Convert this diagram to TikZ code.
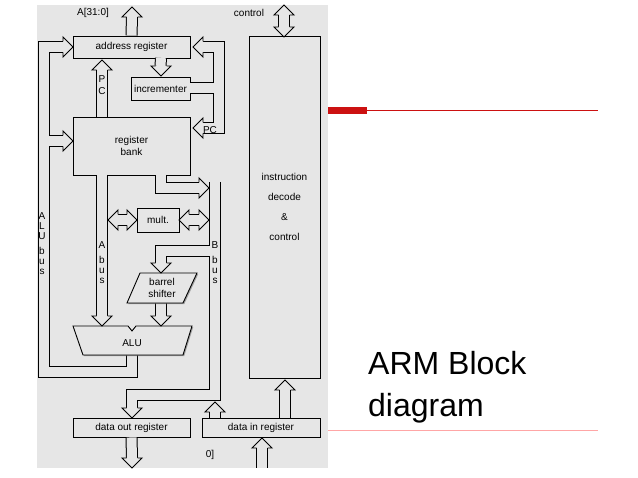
\documentclass[tikz,border=0pt]{standalone}
\usepackage{fontspec}
\setmainfont{Liberation Sans}
\usepackage{tikz}
\usetikzlibrary{shadows}

\definecolor{panel}{HTML}{E6E6E6}
\definecolor{slidered}{HTML}{CC1111}

% bus paths, drawn twice: black border pass, then grey inner pass
\newcommand\buspaths[1]{%
    \draw[#1] (areg.north) -- (132,17);
    \draw[#1] (284,15) -- (284,27);
    \draw[#1] (102,117) -- (102,70);
    \draw[#1] (161,58) -- (inc.north |- 0,66);
    \draw[#1] (203,47) -- (219,47) -- (219,128) -- (203,128);
    \draw[#1] (inc.east) -- (219,88.5);
    \draw[#1] (alu.south) -- (132,372) -- (44,372) -- (44,47) -- (63,47);
    \draw[#1] (44,141) -- (63,141);
    \draw[#1] (102,175) -- (102,316);
    \draw[#1] (161,175) -- (161,188) -- (199,188);
    \draw[#1] (215,182) -- (215,395) -- (132,395) -- (132,408);
    \draw[#1] (215,251) -- (161,251) -- (161,263);
    \draw[#1] (118,220) -- (127,220);
    \draw[#1] (189,220) -- (199,220);
    \draw[#1] (161,302) -- (161,316);
    \draw[#1] (dout.south) -- (132,458);
    \draw[#1] (din.north -| 215,0) -- (215,412);
    \draw[#1] (din.north -| 285,0) -- (285,390);
    \draw[#1] (262,468) -- (262,448);
}

\tikzset{
    blk/.style={draw, line width=.9pt, fill=panel, inner sep=0pt,
        font=\fontsize{10}{12}\selectfont,
        drop shadow={shadow xshift=1.2pt, shadow yshift=-1.2pt, opacity=.7}},
    busout/.style={line width=12pt, draw=black, line join=miter, line cap=butt},
    busin/.style={line width=10pt, draw=panel, line join=miter, line cap=butt},
    lbl/.style={font=\fontsize{10}{12}\selectfont, inner sep=0pt},
    hd/.pic={\filldraw[fill=panel, line width=.9pt, line join=miter]
        (0,5.5) -- (0,10) -- (10,0) -- (0,-10) -- (0,-5.5);},
}

\begin{document}
\begin{tikzpicture}[x=1pt, y=-1pt]
    \useasboundingbox (0,0) rectangle (638,478);
    \fill[panel] (37,5) rectangle (328,468);

    % units
    \node[blk, minimum width=117pt, minimum height=22pt] (areg) at (131.5,47) {};
    \node[blk, minimum width=59pt, minimum height=23pt] (inc) at (160.5,88.5) {};
    \node[blk, minimum width=117pt, minimum height=58pt, align=center] (bank) at (131.5,146) {register\\bank};
    \node[blk, minimum width=71pt, minimum height=342pt] (idec) at (284.5,207) {};
    \node[blk, minimum width=42pt, minimum height=24pt] (mult) at (158,220) {mult.};
    \node[blk, minimum width=117pt, minimum height=19pt] (dout) at (131.5,427.5) {};
    \node[blk, minimum width=118pt, minimum height=19pt] (din) at (261,427.5) {};
    \coordinate (alu) at (132,355);

    \buspaths{busout}
    \buspaths{busin}

    % shapes over the buses
    \filldraw[fill=panel, line width=.9pt, drop shadow={shadow xshift=1.2pt, shadow yshift=-1.2pt, opacity=.7}]
        (73,326) -- (128,326) -- (132,331) -- (136,326) -- (192,326) -- (183,355) -- (83,355) -- cycle;
    \filldraw[fill=panel, line width=.9pt, drop shadow={shadow xshift=1.2pt, shadow yshift=-1.2pt, opacity=.7}]
        (140,273) -- (197,273) -- (183,303) -- (127,303) -- cycle;
    \node[lbl] at (132,343) {ALU};
    \node[lbl, align=center] (bsh) at (162,288) {barrel\\shifter};
    \node[lbl] at (areg) {address register};
    \node[lbl] at (inc) {incrementer};
    \node[lbl] at (dout) {data out register};
    \node[lbl] at (din) {data in register};

    % arrow heads
    \pic[rotate=90] at (132,17) {hd};
    \pic[rotate=90] at (284,15) {hd};
    \pic[rotate=-90] at (284,27) {hd};
    \pic[rotate=90] at (102,70) {hd};
    \pic[rotate=-90] at (161,66) {hd};
    \pic[rotate=180] at (203,47) {hd};
    \pic[rotate=180] at (203,128) {hd};
    \pic at (63,47) {hd};
    \pic at (63,141) {hd};
    \pic[rotate=-90] at (102,316) {hd};
    \pic at (199,188) {hd};
    \pic[rotate=-90] at (132,408) {hd};
    \pic[rotate=-90] at (161,263) {hd};
    \pic[rotate=180] at (118,220) {hd};
    \pic at (127,220) {hd};
    \pic[rotate=180] at (189,220) {hd};
    \pic at (199,220) {hd};
    \pic[rotate=-90] at (161,316) {hd};
    \pic[rotate=-90] at (132,458) {hd};
    \pic[rotate=90] at (215,412) {hd};
    \pic[rotate=90] at (285,390) {hd};
    \pic[rotate=90] at (262,448) {hd};

    % labels
    \node[lbl] at (93,13) {A[31:0]};
    \node[lbl] at (249,13) {control};
    \node[lbl, align=center] at (102,85) {P\\C};
    \node[lbl] at (210,130) {PC};
    \node[lbl, align=center, font=\fontsize{10}{10}\selectfont] at (42,244) {A\\L\\U\\[5pt]b\\u\\s};
    \node[lbl, align=center, font=\fontsize{10}{10}\selectfont] at (102,263) {A\\[5pt]b\\u\\s};
    \node[lbl, align=center, font=\fontsize{10}{10}\selectfont] at (215,263) {B\\[5pt]b\\u\\s};
    \node[lbl, align=center, font=\fontsize{10}{20}\selectfont] at (idec) {instruction\\decode\\\&\\control};
    \node[lbl] at (210,455) {0]};

    % slide decoration
    \draw[slidered, line width=.5pt] (328,110) -- (598,110);
    \fill[slidered] (328,107) rectangle (367,114);
    \draw[red!35, line width=.5pt] (328,430) -- (598,430);
    \node[anchor=base west, inner sep=0pt, font=\fontsize{32}{38}\selectfont] (title) at (368,375) {ARM Block};
    \node[anchor=base west, inner sep=0pt, font=\fontsize{32}{38}\selectfont] at (368,417) {diagram};
\end{tikzpicture}
\end{document}
